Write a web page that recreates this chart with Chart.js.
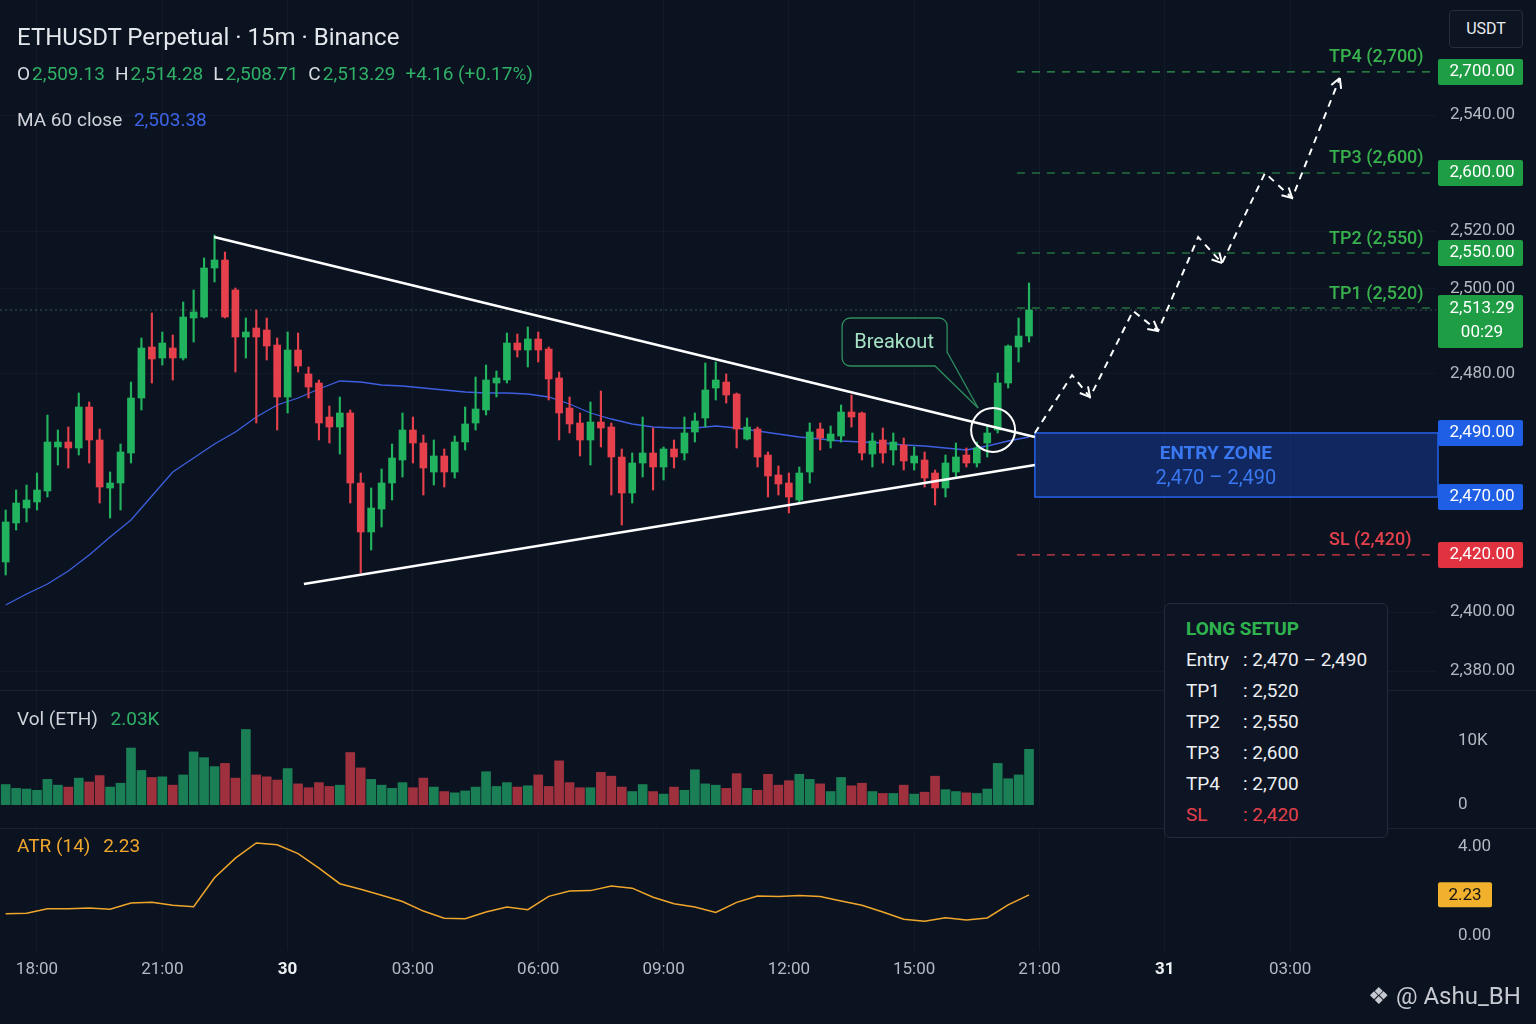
<!DOCTYPE html>
<html>
<head>
<meta charset="utf-8">
<script src="https://cdn.jsdelivr.net/npm/chart.js@4.4.1/dist/chart.umd.min.js"></script>
<style>
  html, body { margin: 0; padding: 0; background: #0b1321; }
  body { width: 1536px; height: 1024px; position: relative; overflow: hidden; font-family: Roboto, "Noto Sans", sans-serif; color: #d9dce2; }
  canvas { position: absolute; left: 0; }
  .txt { position: absolute; white-space: nowrap; line-height: 1; }
  .g { color: #2fb066; }
  .sep { position: absolute; left: 0; width: 1536px; height: 1px; background: #1a2232; }
  #usdt { position: absolute; left: 1449px; top: 10px; width: 72px; height: 36px; border: 1px solid #272d3a; border-radius: 4px; background: #0d1422; color: #e9ebef; font-size: 16px; line-height: 36px; text-align: center; }
  #setup { position: absolute; left: 1164px; top: 603px; width: 222px; height: 233px; border: 1px solid #242b3a; border-radius: 6px; background: #0d1524; font-size: 19px; color: #eceef2; }
  #setup .title { position: absolute; left: 21px; top: 13px; color: #2fb34f; font-weight: bold; }
  #setup .row { position: absolute; left: 21px; }
  #setup .row span { display: inline-block; width: 57px; }
</style>
</head>
<body>
<canvas id="priceChart" width="1536" height="690" style="top:0"></canvas>
<canvas id="volChart" width="1536" height="140" style="top:690px"></canvas>
<canvas id="atrChart" width="1536" height="170" style="top:830px"></canvas>
<div class="sep" style="top:690px"></div>
<div class="sep" style="top:828px"></div>

<div class="txt" style="left:17px;top:25px;font-size:24px;color:#e4e7ec">ETHUSDT Perpetual · 15m · Binance</div>
<div class="txt" id="ohlc" style="left:17px;top:64px;font-size:19px"></div>
<div class="txt" style="left:17px;top:110px;font-size:19px;color:#cfd2d8">MA 60 close <span style="color:#3d63e6;margin-left:7px">2,503.38</span></div>
<div class="txt" style="left:17px;top:709px;font-size:19px;color:#cfd2d8">Vol (ETH) <span class="g" style="margin-left:8px">2.03K</span></div>
<div class="txt" style="left:17px;top:836px;font-size:19px;color:#f0a72c">ATR (14) <span style="margin-left:8px">2.23</span></div>
<div id="usdt">USDT</div>
<div id="setup"></div>
<div class="txt" style="left:1368px;top:984px;font-size:24px;color:#c6c9cf">❖ @ Ashu_BH</div>

<script>
// 15m candles, time in hours counted from 29th 18:00
const startHour = -0.75;
const stepHour = 0.25;

const opens = [2412.5, 2428.1, 2434.1, 2436.5, 2440.9, 2458.5, 2460.5, 2458.1, 2474.5, 2461.3,
  2442.1, 2444.1, 2456.1, 2478.1, 2498.5, 2494.1, 2498.1, 2494.1, 2510.1, 2510.5,
  2530.1, 2533.3, 2521.3, 2502.5, 2506.1, 2505.3, 2499.3, 2478.5, 2497.3, 2487.7,
  2484.1, 2470.5, 2466.5, 2472.1, 2444.1, 2424.5, 2433.7, 2444.1, 2453.3, 2465.3,
  2460.1, 2448.5, 2454.9, 2448.5, 2460.5, 2468.1, 2473.3, 2484.1, 2485.3, 2500.1,
  2497.3, 2501.7, 2497.7, 2486.1, 2474.1, 2468.1, 2461.3, 2468.5, 2466.5, 2454.5,
  2440.1, 2452.1, 2456.1, 2450.5, 2457.7, 2456.1, 2464.5, 2470.1, 2482.1, 2484.5,
  2479.7, 2461.7, 2465.7, 2455.3, 2447.3, 2444.1, 2437.3, 2448.5, 2465.7, 2460.9,
  2462.9, 2472.5, 2472.1, 2455.7, 2461.3, 2457.3, 2459.3, 2452.1, 2453.3, 2448.1,
  2442.1, 2448.5, 2455.3, 2452.1, 2460.1, 2465.3, 2484.1, 2498.5, 2502.9];
const highs = [2433.3, 2441.3, 2443.3, 2448.1, 2471.3, 2465.3, 2466.5, 2480.1, 2476.5, 2465.7,
  2448.5, 2459.7, 2484.5, 2502.1, 2512.1, 2504.5, 2503.3, 2516.5, 2521.3, 2534.1,
  2543.3, 2536.5, 2522.1, 2510.1, 2513.3, 2510.1, 2502.1, 2504.5, 2504.1, 2490.5,
  2485.3, 2474.9, 2478.5, 2473.3, 2448.1, 2442.1, 2449.7, 2459.7, 2472.1, 2470.5,
  2463.3, 2461.3, 2457.7, 2462.9, 2474.5, 2486.5, 2491.3, 2488.9, 2504.1, 2503.7,
  2506.5, 2504.5, 2498.5, 2488.5, 2478.5, 2472.1, 2476.5, 2480.9, 2468.1, 2457.7,
  2456.1, 2470.5, 2466.1, 2458.5, 2461.3, 2470.5, 2472.1, 2492.1, 2492.5, 2487.7,
  2480.1, 2470.1, 2466.5, 2456.5, 2450.9, 2448.1, 2450.5, 2468.1, 2468.1, 2466.9,
  2475.3, 2479.3, 2472.5, 2464.1, 2466.1, 2464.1, 2462.1, 2458.5, 2456.5, 2449.3,
  2455.3, 2460.1, 2458.1, 2460.5, 2467.3, 2488.1, 2499.3, 2510.1, 2524.1];
const lows = [2407.3, 2425.3, 2428.5, 2433.3, 2438.5, 2451.3, 2450.1, 2455.3, 2452.1, 2436.1,
  2430.1, 2433.3, 2452.1, 2473.3, 2484.1, 2491.3, 2485.3, 2493.3, 2500.5, 2510.1,
  2524.5, 2510.1, 2488.5, 2494.1, 2468.1, 2493.3, 2465.3, 2472.1, 2488.5, 2478.1,
  2461.3, 2460.1, 2455.7, 2436.1, 2408.1, 2417.3, 2426.5, 2437.3, 2446.5, 2452.1,
  2439.3, 2443.3, 2442.5, 2446.1, 2457.3, 2465.3, 2471.3, 2478.5, 2484.1, 2494.5,
  2490.5, 2492.5, 2477.3, 2461.3, 2464.1, 2454.9, 2451.3, 2458.5, 2439.3, 2427.3,
  2436.1, 2446.5, 2441.3, 2445.3, 2450.1, 2453.3, 2460.5, 2466.5, 2477.3, 2476.1,
  2458.1, 2461.3, 2450.5, 2438.5, 2439.3, 2432.1, 2436.1, 2444.1, 2457.3, 2458.1,
  2460.5, 2466.5, 2453.3, 2450.5, 2452.1, 2451.3, 2449.3, 2449.3, 2442.5, 2435.3,
  2438.5, 2446.5, 2450.5, 2450.5, 2454.5, 2464.1, 2482.1, 2492.5, 2500.5];
const closes = [2428.5, 2436.1, 2437.3, 2441.3, 2460.5, 2460.5, 2458.1, 2474.5, 2461.3, 2442.5,
  2444.1, 2456.5, 2478.1, 2498.1, 2493.7, 2500.1, 2494.1, 2510.5, 2512.5, 2530.1,
  2533.3, 2510.5, 2502.5, 2504.5, 2502.5, 2498.9, 2478.5, 2497.3, 2490.9, 2482.5,
  2468.1, 2466.5, 2472.1, 2444.1, 2424.5, 2434.1, 2444.1, 2454.1, 2465.3, 2460.1,
  2450.1, 2454.9, 2448.5, 2460.5, 2467.7, 2473.7, 2485.3, 2486.1, 2500.1, 2497.3,
  2501.7, 2497.3, 2485.7, 2472.1, 2467.7, 2461.3, 2468.5, 2466.1, 2454.5, 2440.1,
  2452.1, 2456.1, 2450.5, 2457.7, 2454.5, 2464.1, 2468.9, 2481.3, 2485.3, 2479.3,
  2465.7, 2466.5, 2454.5, 2446.9, 2443.7, 2438.5, 2448.1, 2464.5, 2462.1, 2463.7,
  2472.5, 2470.5, 2456.1, 2460.9, 2456.1, 2460.5, 2452.9, 2454.9, 2446.1, 2442.1,
  2452.1, 2454.5, 2452.1, 2458.1, 2464.1, 2484.1, 2498.9, 2502.9, 2513.29];
const volumes = [3200, 2600, 2500, 2300, 4000, 3100, 2800, 4200, 3600, 4600,
  2800, 3400, 8900, 5400, 4300, 4400, 3100, 4700, 8300, 7400,
  6000, 6500, 4200, 11800, 4700, 4400, 3900, 5700, 3300, 2700,
  3500, 2900, 3100, 8200, 5800, 4000, 3100, 2600, 3500, 2700,
  4200, 2800, 2100, 1900, 2200, 2800, 5200, 2900, 3500, 2800,
  3000, 4700, 2900, 6900, 3500, 2700, 2700, 5100, 4500, 2800,
  2100, 3200, 2100, 1700, 2800, 2300, 5500, 3300, 3100, 2600,
  4900, 2600, 2300, 4800, 3100, 3800, 4800, 4000, 3300, 2100,
  4300, 3000, 3400, 2100, 1800, 1800, 3100, 1700, 2000, 4500,
  2400, 2100, 1900, 1800, 2500, 6500, 4100, 4700, 8700];
// MA 60 and ATR 14, read every second candle (30 min)
const ma60 = [2395.3, 2399.7, 2403.7, 2408.9, 2415.3, 2422.5, 2429.3, 2438.9, 2448.5, 2454.1,
  2459.7, 2464.5, 2470.5, 2475.3, 2478.1, 2481.7, 2484.9, 2484.5, 2483.3, 2482.9,
  2482.1, 2481.3, 2480.5, 2480.1, 2480.1, 2479.7, 2478.5, 2475.7, 2472.1, 2469.7,
  2467.7, 2466.5, 2466.1, 2466.1, 2466.9, 2466.1, 2464.9, 2463.7, 2462.5, 2461.7,
  2460.9, 2460.5, 2460.1, 2459.3, 2458.9, 2458.1, 2457.3, 2458.9, 2460.9, 2462.5];
const atr14 = [1.00, 1.02, 1.22, 1.22, 1.26, 1.20, 1.48, 1.52, 1.38, 1.32,
  2.62, 3.50, 4.18, 4.10, 3.70, 3.05, 2.35, 2.10, 1.83, 1.55,
  1.12, 0.80, 0.78, 1.08, 1.30, 1.18, 1.78, 2.02, 2.04, 2.25,
  2.15, 1.74, 1.45, 1.30, 1.06, 1.51, 1.80, 1.78, 1.82, 1.78,
  1.57, 1.38, 1.08, 0.75, 0.66, 0.82, 0.72, 0.81, 1.40, 1.85];

const tickHours = [0, 3, 6, 9, 12, 15, 18, 21, 24, 27, 30];
const tickLabels = ['18:00', '21:00', '30', '03:00', '06:00', '09:00', '12:00', '15:00', '21:00', '31', '03:00'];
const priceTicks = [2540, 2520, 2500, 2480, 2400, 2380];

// legend line as printed on the picture
const headerKeys = ['O', 'H', 'L', 'C'];
const headerValues = ['2,509.13', '2,514.28', '2,508.71', '2,513.29'];
const headerChange = '+4.16 (+0.17%)';

// drawing of the setup
const descTrend = [{ x: 4.24, y: 2542.5 }, { x: 23.89, y: 2462.5 }];
const ascTrend = [{ x: 6.39, y: 2403.7 }, { x: 23.89, y: 2451.3 }];
const breakoutPoint = { x: 22.89, y: 2465.3 };
const projection = [{ x: 23.89, y: 2490 }, { x: 24.78, y: 2503.9 }, { x: 25.21, y: 2498.6 },
  { x: 26.24, y: 2519.3 }, { x: 26.84, y: 2514.5 }, { x: 27.80, y: 2560 }, { x: 28.37, y: 2544.5 },
  { x: 29.40, y: 2600 }, { x: 30.05, y: 2584.4 }, { x: 31.19, y: 2694 }];
const levelNames = ['TP4', 'TP3', 'TP2', 'TP1', 'SL'];
const levelValues = [2700, 2600, 2550, 2520, 2420];
const entryZone = [2470, 2490];
const entryStartHour = 23.89;
const levelLineStartHour = 23.46;
const countdown = '00:29';
const atrLastLabel = '2.23';

// non-uniform right axes of the picture: [value, fraction from top]
const axisStops = {
  yp: [[2560, 0], [2540, 0.1667], [2520, 0.3348], [2500, 0.4188], [2480, 0.5420], [2400, 0.8870], [2380, 0.9725], [2373, 1]],
  yl: [[2771, 0], [2700, 0.1043], [2600, 0.2507], [2550, 0.3667], [2520, 0.4464], [2490, 0.6275], [2470, 0.7203], [2420, 0.8043], [2300, 1]]
};

const GREEN = '#22b35e', RED = '#e5404b', BG = '#0b1321';
const X_MIN = -0.8858, X_MAX = 33.493;
const up = closes.map((c, i) => c >= opens[i]);
const candleHours = closes.map((c, i) => startHour + i * stepHour);
const halfHours = ma60.map((v, i) => startHour + i * 2 * stepHour);
const fmt2 = v => v.toLocaleString('en-US', { minimumFractionDigits: 2, maximumFractionDigits: 2 });
const fmt0 = v => v.toLocaleString('en-US');

class PiecewiseScale extends Chart.LinearScale {
  static id = 'piecewise';
  static defaults = {};
  determineDataLimits() {
    const s = axisStops[this.id];
    this.min = s[s.length - 1][0];
    this.max = s[0][0];
  }
  buildTicks() {
    return (this.id === 'yp' ? priceTicks : []).map(v => ({ value: v }));
  }
  getPixelForValue(v) {
    const s = axisStops[this.id];
    let i = 0;
    while (i < s.length - 2 && v < s[i + 1][0]) i++;
    const [v0, f0] = s[i], [v1, f1] = s[i + 1];
    const f = f0 + (v - v0) / (v1 - v0) * (f1 - f0);
    return this.top + f * (this.bottom - this.top);
  }
  getValueForPixel(p) {
    const s = axisStops[this.id];
    const f = (p - this.top) / (this.bottom - this.top);
    let i = 0;
    while (i < s.length - 2 && f > s[i + 1][1]) i++;
    const [v0, f0] = s[i], [v1, f1] = s[i + 1];
    return v0 + (f - f0) / (f1 - f0) * (v1 - v0);
  }
}
Chart.register(PiecewiseScale);

// header and setup box
document.getElementById('ohlc').innerHTML =
  headerKeys.map((k, j) => `<span style="margin-right:10px">${k}<span class="g" style="margin-left:2px">${headerValues[j]}</span></span>`).join('') +
  `<span class="g">${headerChange}</span>`;
const rows = [['Entry', `${fmt0(entryZone[0])} – ${fmt0(entryZone[1])}`, '#eceef2']];
['TP1', 'TP2', 'TP3', 'TP4', 'SL'].forEach(n => rows.push([n, fmt0(levelValues[levelNames.indexOf(n)]), n === 'SL' ? '#e5404b' : '#eceef2']));
document.getElementById('setup').innerHTML = '<div class="title">LONG SETUP</div>' +
  rows.map((r, i) => `<div class="row" style="top:${44 + i * 31}px;color:${r[2]}"><span>${r[0]}</span>: ${r[1]}</div>`).join('');

function seg(ctx, x0, y0, x1, y1) { ctx.beginPath(); ctx.moveTo(x0, y0); ctx.lineTo(x1, y1); ctx.stroke(); }
function rrect(ctx, x, y, w, h, r) { ctx.beginPath(); ctx.roundRect(x, y, w, h, r); }

const xAxis = (showLabels) => ({
  type: 'linear', min: X_MIN, max: X_MAX, offset: false,
  afterBuildTicks: s => { s.ticks = tickHours.map(v => ({ value: v })); },
  grid: { color: 'rgba(255,255,255,0.035)', drawTicks: false, offset: false },
  border: { display: false },
  ticks: {
    display: showLabels, autoSkip: false, maxRotation: 0, padding: 10,
    callback: (v, i) => tickLabels[i],
    color: c => (tickLabels[c.index] || '').length <= 2 ? '#eef0f3' : '#b5b9c2',
    font: c => ({ family: 'Roboto', size: 17, weight: (tickLabels[c.index] || '').length <= 2 ? 'bold' : 'normal' })
  },
  afterFit: s => { s.height = showLabels ? 50 : 0; s.paddingLeft = 0; s.paddingRight = 0; }
});
const rightAxis = (extra) => Object.assign({
  position: 'right',
  grid: { display: false },
  border: { display: false },
  afterFit: s => { s.width = 100; s.paddingTop = 0; s.paddingBottom = 0; }
}, extra);
const tickFont = { family: 'Roboto', size: 17 };

const levelPlugin = {
  id: 'levelPlugin',
  beforeDatasetsDraw(chart) {
    const { ctx, chartArea: ca, scales: { x, y, yl } } = chart;
    ctx.save();
    const py = y.getPixelForValue(closes[closes.length - 1]);
    ctx.setLineDash([2, 3]); ctx.strokeStyle = 'rgba(110,170,140,0.45)'; ctx.lineWidth = 1;
    seg(ctx, ca.left, py, ca.right, py);
    ctx.setLineDash([]);
    const ex = x.getPixelForValue(entryStartHour);
    const ey0 = yl.getPixelForValue(entryZone[1]), ey1 = yl.getPixelForValue(entryZone[0]);
    ctx.fillStyle = 'rgba(24,68,180,0.42)';
    ctx.fillRect(ex, ey0, ca.right + 2 - ex, ey1 - ey0);
    ctx.strokeStyle = '#2563eb'; ctx.lineWidth = 1.5;
    ctx.strokeRect(ex, ey0, ca.right + 2 - ex, ey1 - ey0);
    ctx.fillStyle = '#3a78f2'; ctx.textAlign = 'center'; ctx.textBaseline = 'middle';
    ctx.font = 'bold 19px Roboto';
    ctx.fillText('ENTRY ZONE', ex + 181, ey0 + 21);
    ctx.font = '20px Roboto';
    ctx.fillText(`${fmt0(entryZone[0])} – ${fmt0(entryZone[1])}`, ex + 181, ey0 + 46);
    const lx = x.getPixelForValue(levelLineStartHour);
    ctx.setLineDash([8, 7]); ctx.lineWidth = 1.2;
    levelValues.forEach((v, i) => {
      const ly = yl.getPixelForValue(v);
      ctx.strokeStyle = levelNames[i] === 'SL' ? 'rgba(229,64,75,0.95)' : 'rgba(52,170,80,0.9)';
      seg(ctx, lx, ly, ca.right - 4, ly);
    });
    ctx.restore();
  },
  afterDatasetsDraw(chart) {
    const { ctx, scales: { x, y, yl } } = chart;
    ctx.save();
    // arrow heads of the projected path
    ctx.strokeStyle = '#ffffff'; ctx.lineWidth = 2;
    const pts = projection.map(p => [x.getPixelForValue(p.x), yl.getPixelForValue(p.y)]);
    for (let i = 1; i < pts.length; i++) {
      const goesDown = pts[i][1] > pts[i - 1][1];
      if (!goesDown && i !== pts.length - 1) continue;
      const a = Math.atan2(pts[i][1] - pts[i - 1][1], pts[i][0] - pts[i - 1][0]);
      for (const s of [-1, 1]) {
        seg(ctx, pts[i][0], pts[i][1], pts[i][0] - 11 * Math.cos(a + s * 0.5), pts[i][1] - 11 * Math.sin(a + s * 0.5));
      }
    }
    // breakout callout
    const cx = x.getPixelForValue(breakoutPoint.x), cy = y.getPixelForValue(breakoutPoint.y);
    ctx.strokeStyle = '#2f8f5e'; ctx.lineWidth = 1.3; ctx.fillStyle = BG;
    rrect(ctx, cx - 151, cy - 112, 105, 48, 8); ctx.fill(); ctx.stroke();
    ctx.beginPath(); ctx.moveTo(cx - 58, cy - 64); ctx.lineTo(cx - 15, cy - 22); ctx.lineTo(cx - 46, cy - 78); ctx.closePath(); ctx.fill();
    seg(ctx, cx - 58, cy - 64, cx - 15, cy - 22);
    seg(ctx, cx - 46, cy - 78, cx - 15, cy - 22);
    ctx.fillStyle = '#a6e3c5'; ctx.font = '20px Roboto'; ctx.textAlign = 'center'; ctx.textBaseline = 'middle';
    ctx.fillText('Breakout', cx - 99, cy - 87);
    ctx.restore();
  },
  afterDraw(chart) {
    const { ctx, chartArea: ca, scales: { y, yl } } = chart;
    ctx.save();
    ctx.textBaseline = 'middle';
    const box = (cy, h, fill, lines) => {
      ctx.fillStyle = fill; rrect(ctx, ca.right + 2, cy, 85, h, 2); ctx.fill();
      ctx.fillStyle = '#ffffff'; ctx.textAlign = 'center'; ctx.font = '17px Roboto';
      lines.forEach((t, i) => ctx.fillText(t, ca.right + 46, cy + 13 + i * 24));
    };
    levelValues.forEach((v, i) => {
      const ly = yl.getPixelForValue(v);
      const sl = levelNames[i] === 'SL';
      ctx.fillStyle = sl ? '#e5404b' : '#37b24d';
      ctx.font = '500 18px Roboto'; ctx.textAlign = 'left';
      ctx.fillText(`${levelNames[i]} (${fmt0(v)})`, ca.right - 107, ly - 14);
      box(ly - 13, 26, sl ? '#e0323f' : '#1f9d45', [fmt2(v)]);
    });
    entryZone.forEach(v => box(yl.getPixelForValue(v) - 13, 26, '#1f5fe6', [fmt2(v)]));
    box(y.getPixelForValue(closes[closes.length - 1]) - 14, 52, '#1f9d45', [fmt2(closes[closes.length - 1]), countdown]);
    ctx.restore();
  }
};

const baseOptions = (padding) => ({
  responsive: false, animation: false, events: [],
  layout: { padding, autoPadding: false },
  plugins: { legend: { display: false }, tooltip: { enabled: false } }
});

new Chart(document.getElementById('priceChart'), {
  type: 'bar',
  data: {
    datasets: [
      { type: 'line', data: [breakoutPoint], showLine: false, pointRadius: 22, pointBorderWidth: 2,
        pointBorderColor: '#ffffff', pointBackgroundColor: 'rgba(0,0,0,0)', order: 0 },
      { type: 'line', data: projection, yAxisID: 'yl', borderColor: '#ffffff', borderWidth: 2,
        borderDash: [7, 6], pointRadius: 0, order: 0 },
      { type: 'line', data: descTrend, borderColor: '#ffffff', borderWidth: 2.6, pointRadius: 0, order: 1 },
      { type: 'line', data: ascTrend, borderColor: '#ffffff', borderWidth: 2.6, pointRadius: 0, order: 1 },
      { type: 'bar', data: candleHours.map((t, i) => ({ x: t, y: [opens[i], closes[i]] })), grouped: false,
        barThickness: 7, minBarLength: 1, backgroundColor: c => up[c.dataIndex] ? GREEN : RED, order: 3 },
      { type: 'bar', data: candleHours.map((t, i) => ({ x: t, y: [lows[i], highs[i]] })), grouped: false,
        barThickness: 1.5, backgroundColor: c => up[c.dataIndex] ? GREEN : RED, order: 4 },
      { type: 'line', data: halfHours.map((t, i) => ({ x: t, y: ma60[i] })), borderColor: '#3d5fe0',
        borderWidth: 1.3, pointRadius: 0, order: 5 }
    ]
  },
  options: Object.assign(baseOptions(0), {
    scales: {
      x: xAxis(false),
      y: { type: 'linear', display: false, min: 2361.3, max: 2637.3, beginAtZero: false },
      yl: { type: 'piecewise', display: false },
      yp: rightAxis({
        type: 'piecewise', display: true,
        grid: { display: true, color: 'rgba(255,255,255,0.03)', drawTicks: false },
        ticks: { color: '#b4b8c1', font: tickFont, padding: 14, autoSkip: false, callback: v => fmt2(v) }
      })
    }
  }),
  plugins: [levelPlugin]
});

new Chart(document.getElementById('volChart'), {
  type: 'bar',
  data: {
    datasets: [{
      data: candleHours.map((t, i) => ({ x: t, y: volumes[i] })), barThickness: 9,
      backgroundColor: c => up[c.dataIndex] ? 'rgba(34,179,110,0.68)' : 'rgba(229,64,75,0.68)'
    }]
  },
  options: Object.assign(baseOptions({ bottom: 25 }), {
    scales: {
      x: xAxis(false),
      y: rightAxis({
        type: 'linear', min: 0, max: 17970, beginAtZero: true,
        afterBuildTicks: s => { s.ticks = [{ value: 0 }, { value: 10000 }]; },
        ticks: { color: '#b4b8c1', font: tickFont, padding: 14, callback: v => v === 0 ? '0' : (v / 1000) + 'K' }
      })
    }
  })
});

const atrPlugin = {
  id: 'atrBox',
  afterDraw(chart) {
    const { ctx, chartArea: ca, scales: { y } } = chart;
    const ly = y.getPixelForValue(atr14[atr14.length - 1]);
    ctx.save();
    ctx.fillStyle = '#f2b12c'; rrect(ctx, ca.right + 2, ly - 12.5, 54, 25, 2); ctx.fill();
    ctx.fillStyle = '#151515'; ctx.font = '17px Roboto'; ctx.textAlign = 'center'; ctx.textBaseline = 'middle';
    ctx.fillText(atrLastLabel, ca.right + 29, ly + 1);
    ctx.restore();
  }
};

new Chart(document.getElementById('atrChart'), {
  type: 'line',
  data: {
    datasets: [{
      data: halfHours.map((t, i) => ({ x: t, y: atr14[i] })), borderColor: '#f0a62b',
      borderWidth: 1.5, pointRadius: 0
    }]
  },
  options: Object.assign(baseOptions(0), {
    scales: {
      x: xAxis(true),
      y: rightAxis({
        type: 'linear', min: -0.629, max: 4.764,
        afterBuildTicks: s => { s.ticks = [{ value: 0 }, { value: 4 }]; },
        ticks: { color: '#b4b8c1', font: tickFont, padding: 14, callback: v => v.toFixed(2) }
      })
    }
  }),
  plugins: [atrPlugin]
});
</script>
</body>
</html>
